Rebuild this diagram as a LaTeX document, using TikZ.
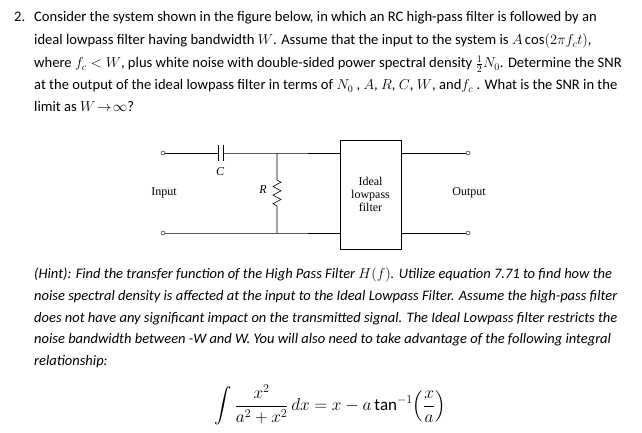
\documentclass[tikz,border=0pt]{standalone}
\usepackage{fontspec}
\setmainfont{Carlito}
\newfontfamily\circfont{Liberation Serif}
\usepackage{amsmath}
\begin{document}
\begin{tikzpicture}[x=1pt,y=-1pt,
  txt/.style={anchor=base west,inner sep=0,font=\fontsize{14.6}{16}\selectfont},
  hint/.style={txt,font=\fontsize{14.5}{16}\selectfont\itshape},
  lbl/.style={font=\circfont\fontsize{12}{13}\selectfont,align=center,inner sep=0},
  wire/.style={line width=0.6pt},
  term/.style={circle,draw,fill=white,inner sep=0,minimum size=4pt}]
\useasboundingbox (0,0) rectangle (642,433);
\node[txt] (n2) at (14,22) {2.};
\node[txt] (l1) at (34,22) {Consider the system shown in the figure below, in which an RC high-pass filter is followed by an};
\node[txt] (l2) at (34,45) {ideal lowpass filter having bandwidth $W$. Assume that the input to the system is $A\cos(2\pi f_c t)$,};
\node[txt] (l3) at (34,68) {where $f_c<W$, plus white noise with double-sided power spectral density $\frac{1}{2}N_0$. Determine the SNR};
\node[txt] (l4) at (34,90) {at the output of the ideal lowpass filter in terms of $N_0$ , $A$, $R$, $C$, $W$, and$f_c$ . What is the SNR in the};
\node[txt] (l5) at (34,112) {limit as $W\!\rightarrow\!\infty$?};
% circuit
\coordinate (tl) at (163,153);
\coordinate (bl) at (163,233);
\coordinate (tr) at (468,153);
\coordinate (br) at (468,233);
\coordinate (c1) at (218,153);
\coordinate (c2) at (223,153);
\coordinate (jt) at (277,153);
\coordinate (jb) at (277,233);
\coordinate (r1) at (277,180);
\coordinate (r2) at (277,206);
\node[draw,wire,minimum width=61pt,minimum height=109pt,inner sep=0,lbl] (box) at (370.5,194.5) {Ideal\\lowpass\\filter};
\draw[wire] (tl) -- (c1) (c1)+(0,-8) -- +(0,8) (c2)+(0,-8) -- +(0,8) (c2) -- (jt) -- (jt -| box.west);
\draw[wire] (bl) -- (jb) -- (jb -| box.west);
\draw[wire] (jt) -- (r1) -- ++(4,2.2) -- ++(-8,4.3) -- ++(8,4.3) -- ++(-8,4.3) -- ++(8,4.3) -- ++(-8,4.3) -- (r2) -- (jb);
\draw[wire] (tl -| box.east) -- (tr);
\draw[wire] (bl -| box.east) -- (br);
\node[term] (t1) at (tl) {};
\node[term] (t2) at (bl) {};
\node[term] (t3) at (tr) {};
\node[term] (t4) at (br) {};
\node[lbl] (cl) at (220,172) {\itshape C};
\node[lbl] (rl) at (263,190) {\itshape R};
\node[lbl] (inp) at (164,193) {Input};
\node[lbl] (outp) at (469,193) {Output};
% hint
\node[hint] (h1) at (34,278) {(Hint): Find the transfer function of the High Pass Filter $H(f)$. Utilize equation 7.71 to find how the};
\node[hint] (h2) at (34,300) {noise spectral density is affected at the input to the Ideal Lowpass Filter. Assume the high-pass filter};
\node[hint] (h3) at (34,322) {does not have any significant impact on the transmitted signal. The Ideal Lowpass filter restricts the};
\node[hint] (h4) at (34,343) {noise bandwidth between -W and W. You will also need to take advantage of the following integral};
\node[hint] (h5) at (34,365) {relationship:};
\node[inner sep=0,font=\fontsize{17}{19}\selectfont] (eq) at (330,405) {$\displaystyle\int\frac{x^2}{a^2+x^2}\,dx = x - a\tan^{-1}\!\left(\frac{x}{a}\right)$};
\end{tikzpicture}
\end{document}
